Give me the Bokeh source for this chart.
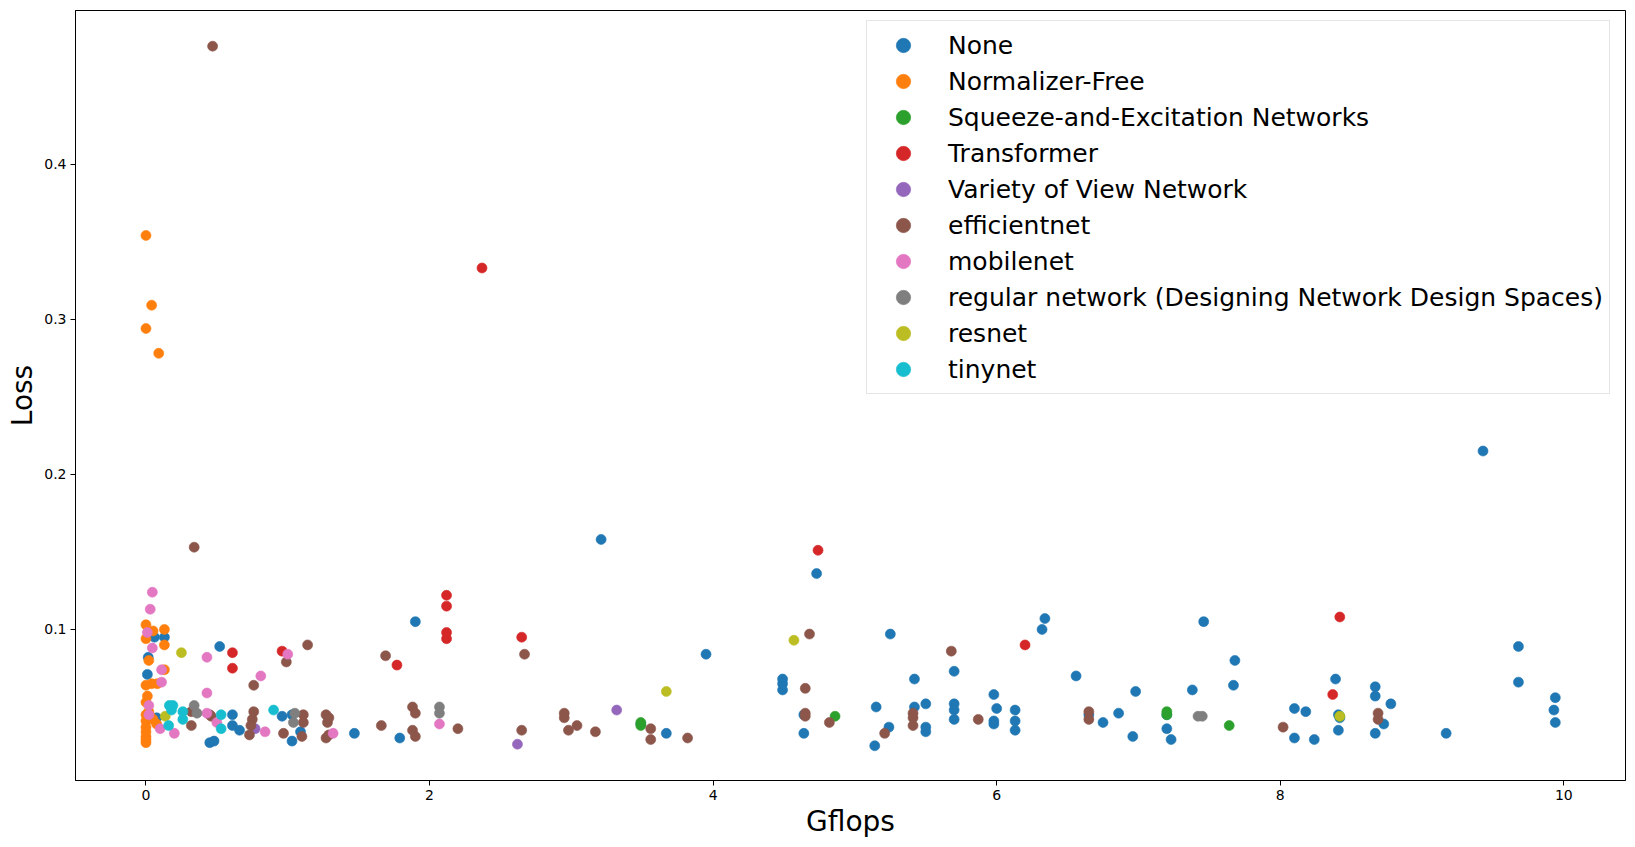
from bokeh.plotting import figure
from bokeh.models import Range1d, FixedTicker, Legend, LegendItem
from bokeh.embed import file_html
from bokeh.resources import INLINE

# Gflops / loss per model family
none_x = [0.06, 0.13, 0.016, 0.01, 0.52, 0.61, 0.61, 0.66, 0.45, 0.48, 0.075, 0.96, 1.03, 1.09, 1.03,
          1.47, 1.79, 1.90, 3.21, 4.73, 3.95, 4.49, 4.49, 4.49, 3.49, 3.67, 4.64, 4.64, 5.25, 5.42,
          5.70, 5.15, 5.24, 5.42, 5.50, 5.50, 5.50, 5.70, 5.70, 5.70, 5.98, 6.00, 5.98, 5.98, 6.13,
          6.13, 6.13, 6.32, 6.34, 6.56, 6.65, 6.75, 6.86, 7.46, 7.68, 7.67, 6.98, 7.38, 7.20, 7.20,
          6.96, 7.23, 8.10, 8.18, 8.10, 8.24, 8.39, 8.41, 8.42, 8.41, 8.67, 8.67, 8.78, 8.73, 8.67,
          9.17, 9.43, 9.68, 9.68, 9.94, 9.93, 9.94, 5.14]
none_y = [0.095, 0.095, 0.082, 0.071, 0.089, 0.045, 0.038, 0.035, 0.027, 0.028, 0.043, 0.044, 0.045, 0.034, 0.028,
          0.033, 0.030, 0.105, 0.158, 0.136, 0.084, 0.068, 0.065, 0.061, 0.039, 0.033, 0.033, 0.045, 0.097, 0.068,
          0.073, 0.050, 0.037, 0.050, 0.052, 0.037, 0.034, 0.052, 0.048, 0.042, 0.058, 0.049, 0.041, 0.039, 0.048,
          0.041, 0.035, 0.100, 0.107, 0.070, 0.045, 0.040, 0.046, 0.105, 0.080, 0.064, 0.060, 0.061, 0.045, 0.036,
          0.031, 0.029, 0.049, 0.047, 0.030, 0.029, 0.068, 0.045, 0.043, 0.035, 0.063, 0.057, 0.052, 0.039, 0.033,
          0.033, 0.215, 0.089, 0.066, 0.056, 0.048, 0.040, 0.025]

nf_x = [0.0, 0.04, 0.0, 0.09, 0.0, 0.05, 0.0, 0.13, 0.13, 0.02, 0.13, 0.0, 0.04, 0.08, 0.01, 0.0,
        0.0, 0.0, 0.075, 0.0, 0.0, 0.0, 0.0, 0.0, 0.02, 0.05, 0.03]
nf_y = [0.354, 0.309, 0.294, 0.278, 0.103, 0.099, 0.094, 0.100, 0.090, 0.080, 0.074, 0.064, 0.065, 0.065, 0.057, 0.053,
        0.045, 0.041, 0.039, 0.037, 0.034, 0.031, 0.029, 0.027, 0.047, 0.042, 0.044]

se_x = [3.49, 3.49, 4.86, 7.20, 7.20, 7.64, 8.42]
se_y = [0.040, 0.038, 0.044, 0.047, 0.045, 0.038, 0.044]

tr_x = [2.37, 4.74, 8.42, 6.20, 8.37, 2.12, 2.12, 2.12, 2.12, 2.65, 1.77, 0.96, 0.61, 0.61]
tr_y = [0.333, 0.151, 0.108, 0.090, 0.058, 0.122, 0.115, 0.098, 0.094, 0.095, 0.077, 0.086, 0.085, 0.075]

vv_x = [0.77, 2.62, 3.32]
vv_y = [0.036, 0.026, 0.048]

eff_x = [0.47, 0.34, 1.14, 1.69, 0.99, 0.76, 0.32, 0.46, 0.32, 0.76, 0.75, 0.74, 0.73, 1.11, 1.11, 0.97,
         1.10, 1.27, 1.28, 1.29, 1.27, 1.29, 1.66, 1.88, 1.90, 1.88, 1.90, 2.20, 2.67, 2.95, 2.95, 2.98,
         3.04, 3.17, 2.65, 3.56, 3.56, 3.82, 4.68, 4.65, 4.65, 4.65, 4.82, 5.21, 5.41, 5.41, 5.41, 5.68,
         5.87, 6.65, 6.65, 8.02, 8.69, 8.69, 0.45]
eff_y = [0.476, 0.153, 0.090, 0.083, 0.079, 0.064, 0.047, 0.044, 0.038, 0.047, 0.042, 0.038, 0.032, 0.045, 0.040, 0.033,
         0.031, 0.045, 0.040, 0.043, 0.030, 0.032, 0.038, 0.050, 0.046, 0.035, 0.031, 0.036, 0.084, 0.046, 0.043, 0.035,
         0.038, 0.034, 0.035, 0.036, 0.029, 0.030, 0.097, 0.062, 0.046, 0.044, 0.040, 0.033, 0.046, 0.043, 0.038, 0.086,
         0.042, 0.047, 0.042, 0.037, 0.046, 0.042, 0.045]

mob_x = [0.045, 0.03, 0.01, 0.045, 0.11, 0.11, 0.43, 0.43, 0.43, 0.02, 0.02, 0.50, 0.20, 0.10, 1.00,
         0.81, 0.84, 1.32, 2.07]
mob_y = [0.124, 0.113, 0.098, 0.088, 0.074, 0.066, 0.082, 0.059, 0.046, 0.051, 0.045, 0.040, 0.033, 0.036, 0.084,
         0.070, 0.034, 0.033, 0.039]

reg_x = [0.34, 0.36, 1.05, 1.04, 2.07, 2.07, 7.42, 7.45]
reg_y = [0.051, 0.046, 0.046, 0.040, 0.050, 0.046, 0.044, 0.044]

res_x = [0.25, 0.136, 4.57, 3.67, 8.42]
res_y = [0.085, 0.044, 0.093, 0.060, 0.044]

tiny_x = [0.165, 0.19, 0.18, 0.26, 0.26, 0.16, 0.53, 0.53, 0.90]
tiny_y = [0.051, 0.051, 0.048, 0.047, 0.042, 0.038, 0.045, 0.036, 0.048]

series = [
    ("None", none_x, none_y, "#1f77b4"),
    ("Normalizer-Free", nf_x, nf_y, "#ff7f0e"),
    ("Squeeze-and-Excitation Networks", se_x, se_y, "#2ca02c"),
    ("Transformer", tr_x, tr_y, "#d62728"),
    ("Variety of View Network", vv_x, vv_y, "#9467bd"),
    ("efficientnet", eff_x, eff_y, "#8c564b"),
    ("mobilenet", mob_x, mob_y, "#e377c2"),
    ("regular network (Designing Network Design Spaces)", reg_x, reg_y, "#7f7f7f"),
    ("resnet", res_x, res_y, "#bcbd22"),
    ("tinynet", tiny_x, tiny_y, "#17becf"),
]

FONT = "DejaVu Sans"

p = figure(frame_width=1550, frame_height=770,
           min_border_left=75, min_border_right=2, min_border_top=10, min_border_bottom=60,
           x_range=Range1d(-0.497, 10.435), y_range=Range1d(0.0026, 0.499),
           output_backend="svg", toolbar_location=None)

items = []
for name, xs, ys, col in series:
    r = p.scatter(xs, ys, size=10, marker="circle", fill_color=col, line_color=col, line_alpha=0.6)
    items.append(LegendItem(label=name, renderers=[r]))

p.grid.visible = False
p.outline_line_color = "black"
p.outline_line_width = 1

p.xaxis.ticker = FixedTicker(ticks=[0, 2, 4, 6, 8, 10])
p.yaxis.ticker = FixedTicker(ticks=[0.1, 0.2, 0.3, 0.4])
p.xaxis.axis_label = "Gflops"
p.yaxis.axis_label = "Loss"
for ax in (p.xaxis, p.yaxis):
    ax.axis_label_text_font = FONT
    ax.axis_label_text_font_size = "28px"
    ax.axis_label_text_font_style = "normal"
    ax.axis_label_text_color = "black"
    ax.axis_label_standoff = 2
    ax.major_label_text_font = FONT
    ax.major_label_text_font_size = "14px"
    ax.major_label_text_color = "black"
    ax.major_label_standoff = 4
    ax.major_tick_out = 5
    ax.major_tick_in = 0
    ax.minor_tick_out = 0
    ax.minor_tick_in = 0
    ax.axis_line_color = "black"
    ax.major_tick_line_color = "black"

legend = Legend(items=items, location=(791, 386))
legend.label_text_font = FONT
legend.label_text_font_size = "25px"
legend.label_text_color = "black"
legend.label_height = 36
legend.glyph_height = 36
legend.glyph_width = 60
legend.label_standoff = 15
legend.spacing = 0
legend.padding = 6
legend.margin = 0
legend.border_line_color = "#cccccc"
legend.border_line_width = 1
legend.background_fill_alpha = 0.8
p.add_layout(legend)

open("out.html", "w").write(file_html(p, INLINE))
